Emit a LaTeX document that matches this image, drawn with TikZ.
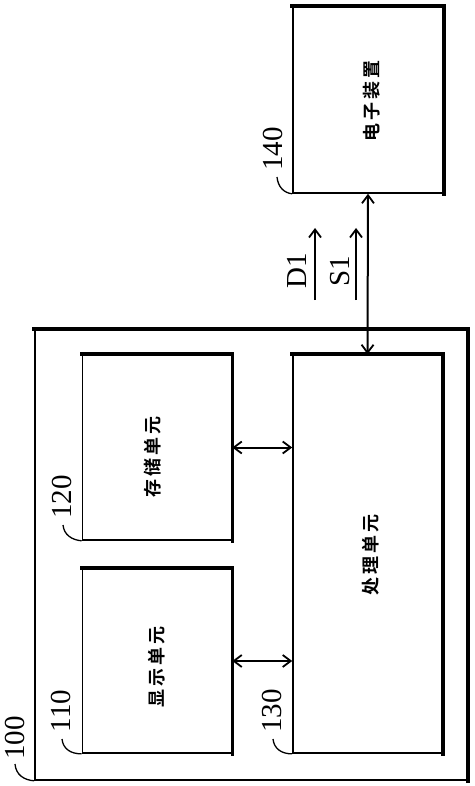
\documentclass[tikz,border=0pt]{standalone}
\usepackage{fontspec}
\setmainfont{Liberation Serif}
\newfontfamily\cjk{Noto Sans CJK SC}[BoldFont=* Bold]
\usetikzlibrary{arrows.meta}
\tikzset{
  blk/.style={draw, line width=1.6pt, minimum width=#1, inner sep=0pt},
  thk/.style={line width=3.6pt, line join=miter, line cap=rect},
  tip/.style={Straight Barb[length=8pt,width=12pt,line width=1.8pt]},
  conn/.style={line width=2pt, {Straight Barb[length=8pt,width=12pt,line width=1.8pt]}-{Straight Barb[length=8pt,width=12pt,line width=1.8pt]}},
  sig/.style={line width=1.8pt, -{Straight Barb[length=8pt,width=12pt,line width=1.8pt]}},
  lead/.style={line width=1.3pt},
  num/.style={rotate=90, font=\fontsize{29}{29}\selectfont, inner sep=0pt},
  cn/.style={rotate=90, font=\cjk\bfseries\fontsize{18}{18}\selectfont, inner sep=0pt}
}
\newcommand{\gp}{\hspace{3pt}}
\begin{document}
\begin{tikzpicture}[x=1pt,y=-1pt]
\useasboundingbox (0,0) rectangle (474,786);
% boxes
\node[blk=432pt, minimum height=450pt] (o100) at (251,555) {};
\node[blk=149pt, minimum height=185pt] (b120) at (157,447.5) {};
\node[blk=149pt, minimum height=184pt] (b110) at (157,661) {};
\node[blk=149pt, minimum height=398pt] (b130) at (367.5,554) {};
\node[blk=150pt, minimum height=186pt] (b140) at (368,100) {};
% thick top and right edges
\foreach \b in {o100,b120,b110,b130,b140}{
  \draw[thk] (\b.north west) -- (\b.north east) -- (\b.south east);
}
% texts
\node[cn] (t140) at (372,101) {电\gp 子\gp 装\gp 置};
\node[cn] (t120) at (153,457) {存\gp 储\gp 单\gp 元};
\node[cn] (t110) at (157,667) {显\gp 示\gp 单\gp 元};
\node[cn] (t130) at (371,555) {处\gp 理\gp 单\gp 元};
% reference numerals
\node[num] (n100) at (15,738) {100};
\node[num] (n110) at (61,711) {110};
\node[num] (n120) at (62,497) {120};
\node[num] (n130) at (272,711) {130};
\node[num] (n140) at (273,149) {140};
% leader curves
\draw[lead] (15,764) .. controls (16,775) and (24,780) .. (o100.south west);
\draw[lead] (62,739) .. controls (63,749) and (71,754) .. (b110.south west);
\draw[lead] (63,525) .. controls (64,535) and (72,540) .. (b120.south west);
\draw[lead] (273,739) .. controls (274,749) and (282,754) .. (b130.south west);
\draw[lead] (277,177) .. controls (278,187) and (284,193) .. (b140.south west);
% connectors
\draw[conn] (b140.south) -- (b130.north);
\draw[conn] (b120.east) -- (b120.east -| b130.west);
\draw[conn] (b110.east) -- (b110.east -| b130.west);
% signals D1 S1
\coordinate (d1a) at (315,300);
\coordinate (d1b) at (315,228);
\coordinate (s1a) at (356,300);
\coordinate (s1b) at (356,228);
\draw[sig] (d1a) -- (d1b);
\draw[sig] (s1a) -- (s1b);
\node[num] (lD1) at (297,271) {D1};
\node[num] (lS1) at (340,271) {S1};
\end{tikzpicture}
\end{document}
